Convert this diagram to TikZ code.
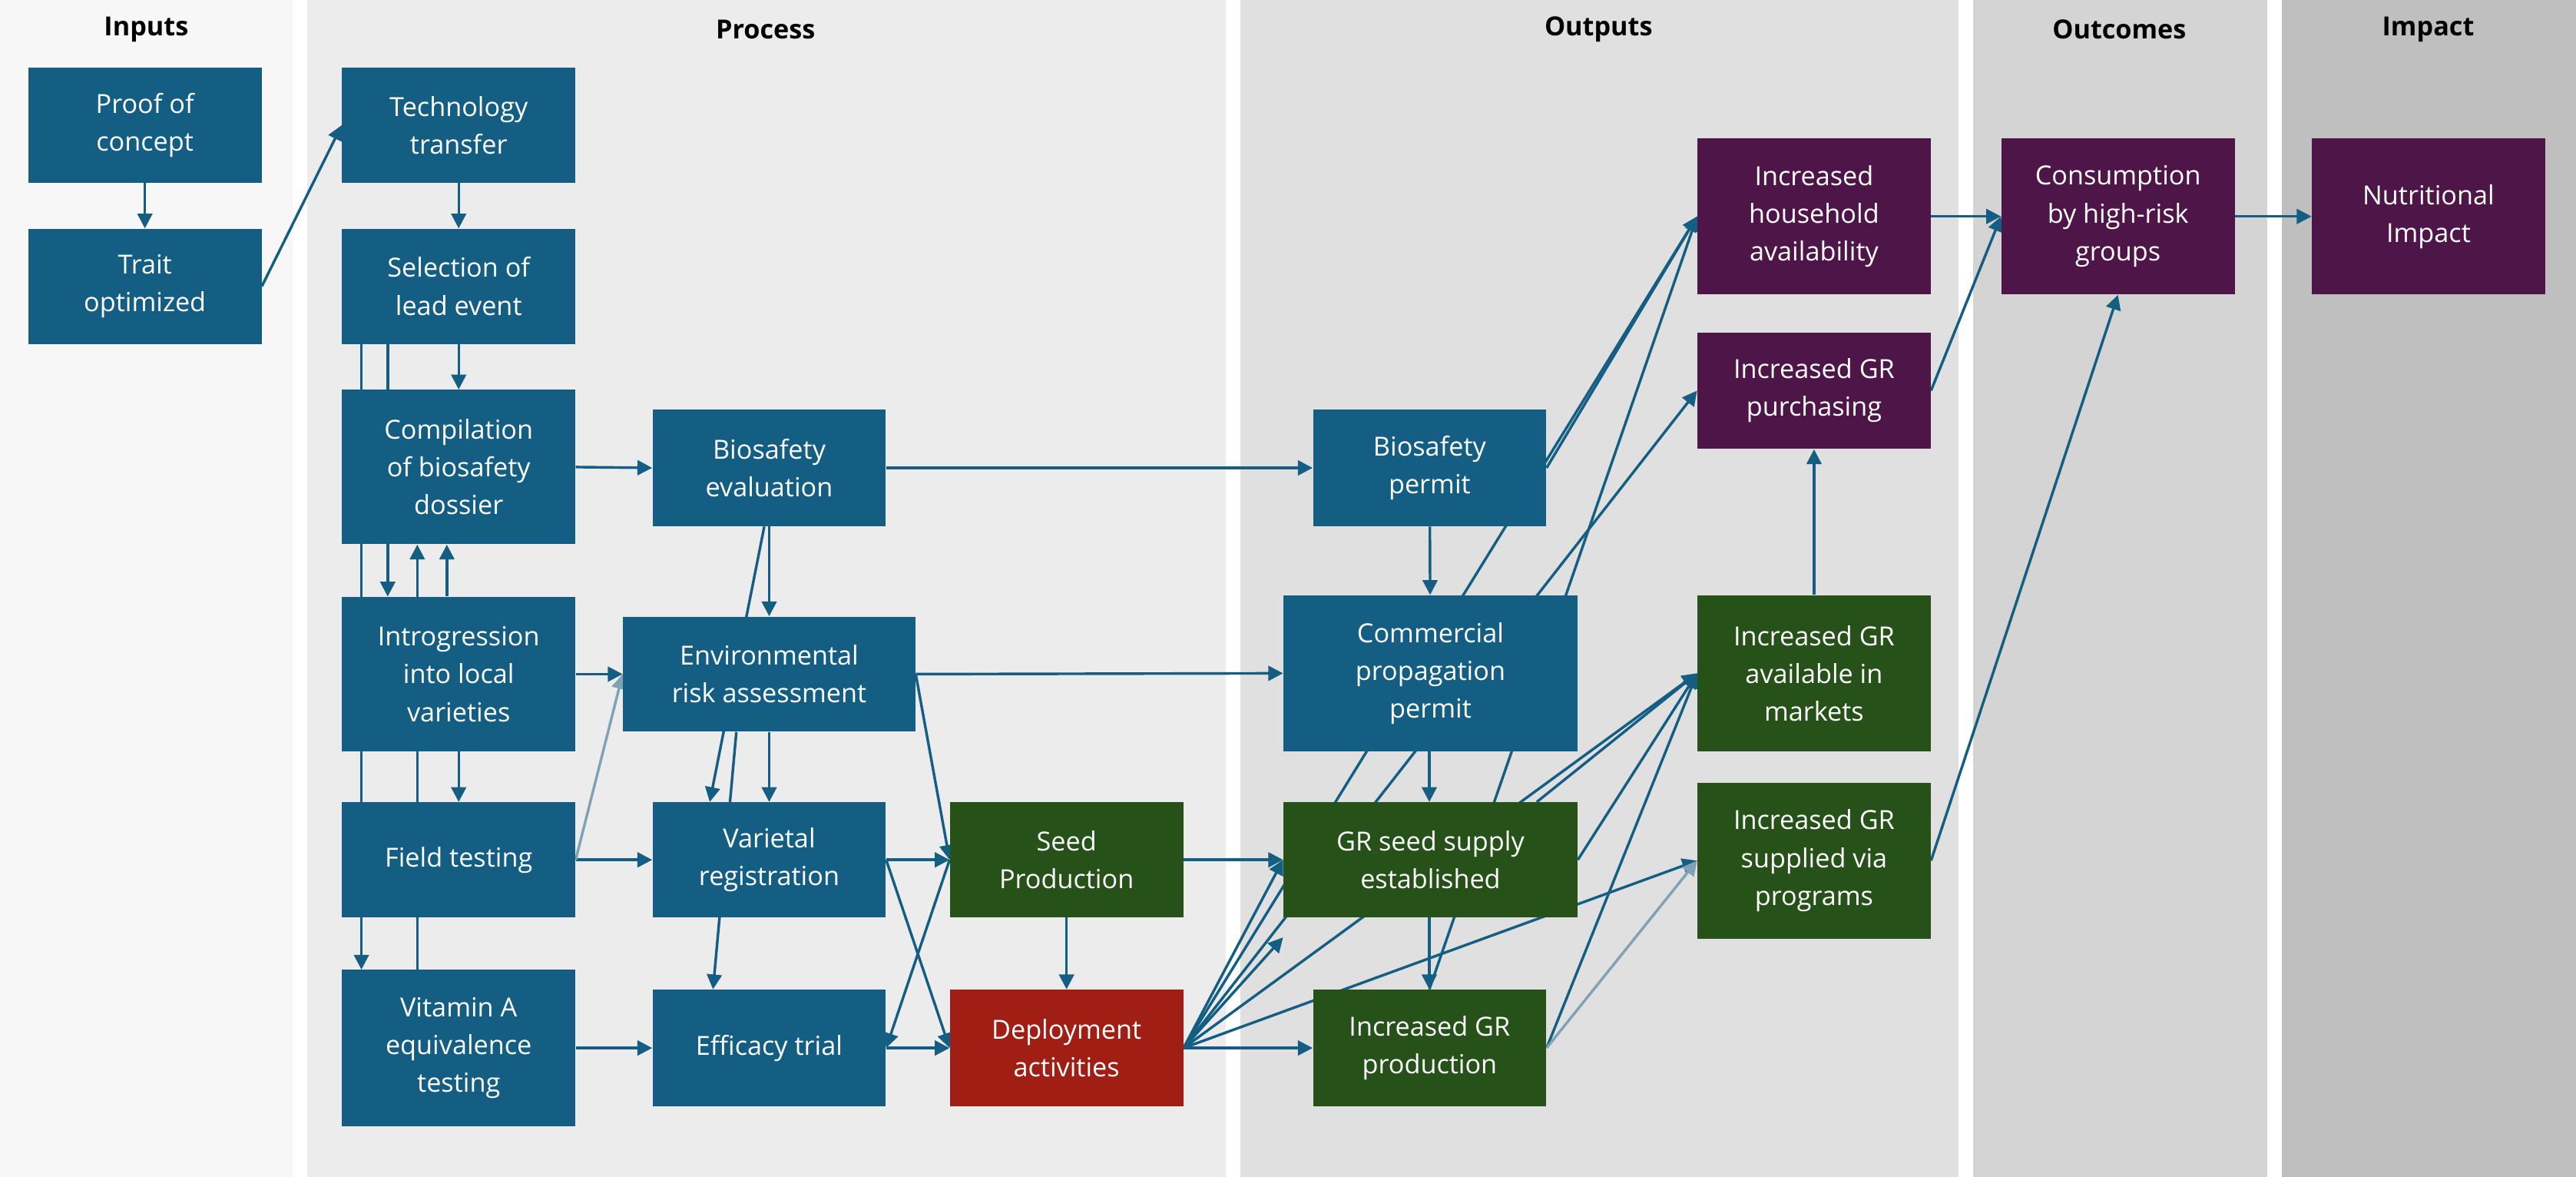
\documentclass[tikz,border=0pt]{standalone}
\usepackage{fontspec}
\setmainfont{Open Sans}
\usetikzlibrary{arrows.meta}
\pgfdeclarelayer{panel}\pgfdeclarelayer{background}
\pgfsetlayers{panel,background,main}
\definecolor{cb}{HTML}{135E82}\definecolor{cg}{HTML}{265118}
\definecolor{cp}{HTML}{4E1548}\definecolor{cr}{HTML}{A01E14}
\definecolor{cl}{HTML}{7FA3B5}
\begin{document}
\begin{tikzpicture}[x=1pt,y=-1pt,
 box/.style={anchor=north west,inner sep=2pt,text=white,align=center,font=\fontsize{16}{23}\selectfont,minimum width=142pt,minimum height=70pt},
 B/.style={box,fill=cb},G/.style={box,fill=cg},P/.style={box,fill=cp},R/.style={box,fill=cr},
 ar/.style={draw=cb,line width=1.6pt,-{Triangle[length=9pt,width=9pt]}},
 ln/.style={draw=cb,line width=1.6pt},
 la/.style={draw=cl,line width=1.6pt,-{Triangle[length=9pt,width=9pt]}},
 ttl/.style={font=\fontsize{16}{18}\selectfont\bfseries}]
\useasboundingbox (0,0) rectangle (1568,716);
\begin{pgfonlayer}{panel}
\fill[white] (0,0) rectangle (1568,716);
\fill[black!3] (0,0) rectangle (178,716);
\fill[black!7.5] (187,0) rectangle (746,716);
\fill[black!12] (755,0) rectangle (1192,716);
\fill[black!17] (1201,0) rectangle (1380,716);
\fill[black!25] (1389,0) rectangle (1568,716);
\end{pgfonlayer}
\node[ttl] (t1) at (89,18) {Inputs};
\node[ttl] (t2) at (466,18) {Process};
\node[ttl] (t3) at (973,18) {Outputs};
\node[ttl] (t4) at (1290,18) {Outcomes};
\node[ttl] (t5) at (1478,18) {Impact};
% nodes
\node[B] (proof) at (17,41) {Proof of\\concept};
\node[B] (trait) at (17,139) {Trait\\optimized};
\node[B] (tech) at (208,41) {Technology\\transfer};
\node[B] (sel) at (208,139) {Selection of\\lead event};
\node[B,minimum height=94pt] (comp) at (208,237) {Compilation\\of biosafety\\dossier};
\node[B,minimum height=94pt] (intro) at (208,363) {Introgression\\into local\\varieties};
\node[B] (field) at (208,488) {Field testing};
\node[B,minimum height=95pt] (vit) at (208,590) {Vitamin A\\equivalence\\testing};
\node[B,minimum height=71pt] (beval) at (397,249) {Biosafety\\evaluation};
\node[B,minimum width=178pt] (env) at (379,375) {Environmental\\risk assessment};
\node[B] (var) at (397,488) {Varietal\\registration};
\node[B,minimum height=71pt] (eff) at (397,602) {Efficacy trial};
\node[G] (sprod) at (578,488) {Seed\\Production};
\node[R,minimum height=71pt] (dep) at (578,602) {Deployment\\activities};
\node[B,minimum height=71pt] (bperm) at (799,249) {Biosafety\\permit};
\node[B,minimum width=179pt,minimum height=95pt] (comm) at (781,362) {Commercial\\propagation\\permit};
\node[G,minimum width=179pt] (supp) at (781,488) {GR seed supply\\established};
\node[G,minimum height=71pt] (prod) at (799,602) {Increased GR\\production};
\node[P,minimum height=95pt] (hh) at (1033,84) {Increased\\household\\availability};
\node[P,minimum height=71pt] (purch) at (1033,202) {Increased GR\\purchasing};
\node[G,minimum height=95pt] (mkt) at (1033,362) {Increased GR\\available in\\markets};
\node[G,minimum height=95pt] (prog) at (1033,476) {Increased GR\\supplied via\\programs};
\node[P,minimum height=95pt] (cons) at (1218,84) {Consumption\\by high-risk\\groups};
\node[P,minimum height=95pt] (nut) at (1407,84) {Nutritional\\Impact};
\begin{pgfonlayer}{background}
\draw[ar] (proof) -- (trait);
\draw[ar] (trait.east) -- (tech.west);
\draw[ar] (tech) -- (sel);
\draw[ar] (sel) -- (comp);
\draw[ar] ([xshift=12pt]sel.south west) -- ([xshift=12pt]vit.north west);
\draw[ar] ([xshift=28pt]sel.south west) -- ([xshift=28pt]intro.north west);
\draw[ar] ([xshift=46pt]vit.north west) -- ([xshift=46pt]comp.south west);
\draw[ar] ([xshift=64pt]intro.north west) -- ([xshift=64pt]comp.south west);
\draw[ar] (intro) -- (field);
\draw[ar] (comp.east) -- (beval.west);
\draw[ar] (intro.east) -- (env.west);
\draw[ar] (field.east) -- (var.west);
\draw[la] (field.east) -- (env.west);
\draw[ar] (vit.east) -- (eff.west);
\draw[ar] (beval) -- (env);
\draw[ar] ([xshift=-3pt]beval.south) -- ([xshift=35pt]var.north west);
\draw[ar] ([xshift=-20pt]env.south) -- ([xshift=37pt]eff.north west);
\draw[ar] (env) -- (var);
\draw[ar] (env.east) -- (sprod.west);
\draw[ar] (var.east) -- (sprod.west);
\draw[ar] (var.east) -- (dep.west);
\draw[ar] (sprod.west) -- (eff.east);
\draw[ar] (eff.east) -- (dep.west);
\draw[ar] (sprod) -- (dep);
\draw[ar] (sprod.east) -- (supp.west);
\draw[ar] (beval.east) -- (bperm.west);
\draw[ar] (env.east) -- (comm.west);
\draw[ar] (bperm) -- (comm);
\draw[ar] ([xshift=89pt]comm.south west) -- ([xshift=89pt]supp.north west);
\draw[ar] ([xshift=89pt]supp.south west) -- ([xshift=71pt]prod.north west);
\draw[ar] (bperm.east) -- (hh.west);
\draw[ar] (dep.east) -- (hh.west);
\draw[ar] (dep.east) -- (purch.west);
\draw[ar] ([xshift=71pt]prod.north west) -- (hh.west);
\draw[ar] (dep.east) -- (mkt.west);
\draw[ar] (dep.east) -- (prog.west);
\draw[ar] (dep.east) -- (supp.west);
\draw[ar] (dep.east) -- ([yshift=-12pt]supp.south west);
\draw[ar] (dep.east) -- (prod.west);
\draw[ar] ([xshift=-25pt]supp.north east) -- (mkt.west);
\draw[ar] (supp.east) -- (mkt.west);
\draw[ar] (prod.east) -- (mkt.west);
\draw[la] (prod.east) -- (prog.west);
\draw[ar] (mkt) -- (purch);
\draw[ar] (hh.east) -- (cons.west);
\draw[ar] (purch.east) -- (cons.west);
\draw[ar] (prog.east) -- (cons.south);
\draw[ar] (cons) -- (nut);
\end{pgfonlayer}
\end{tikzpicture}
\end{document}
